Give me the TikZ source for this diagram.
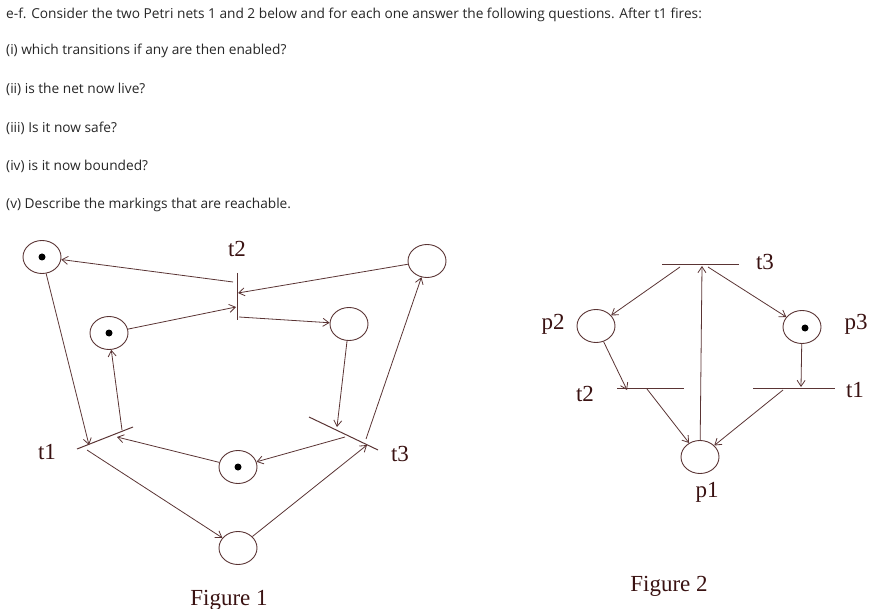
\documentclass[tikz,border=0pt]{standalone}
\usepackage{fontspec}
\setmainfont{Liberation Serif}
\newfontfamily\hdr{Open Sans}
\usetikzlibrary{shapes.geometric,arrows.meta}
\definecolor{ln}{HTML}{5A3434}
\definecolor{tx}{HTML}{3A1212}
\tikzset{
  place/.style={ellipse,draw=ln,line width=0.9pt,minimum width=38pt,minimum height=33pt,inner sep=0pt},
  trans/.style={draw=ln,line width=1pt},
  arc/.style={draw=ln,line width=0.8pt,-{Straight Barb[length=6pt,width=8pt]}},
  lbl/.style={text=tx,font=\fontsize{23}{25}\selectfont},
  hd/.style={anchor=west,font=\hdr\fontsize{13.7}{15}\selectfont,text=black!85,inner sep=0pt},
  tok/.style={circle,fill=black,inner sep=0pt,minimum size=7pt}
}
\begin{document}
\begin{tikzpicture}[x=1pt,y=-1pt]
\useasboundingbox (0,0) rectangle (872,609);
% header
\node[hd] (h0) at (6,15) {e-f. Consider the two Petri nets 1 and 2 below and for each one answer the following questions. After t1 fires:};
\node[hd] (h1) at (6,51) {(i) which transitions if any are then enabled?};
\node[hd] (h2) at (6,89) {(ii) is the net now live?};
\node[hd] (h3) at (6,128) {(iii) Is it now safe?};
\node[hd] (h4) at (6,166) {(iv) is it now bounded?};
\node[hd] (h5) at (6,205) {(v) Describe the markings that are reachable.};
% ---------- Figure 1
\node[place] (A) at (42,257) {}; \node[tok] (Ad) at (42,257) {};
\node[place] (TR) at (427,261) {};
\node[place] (B) at (109,333) {}; \node[tok] (Bd) at (109,333) {};
\node[place] (C) at (349,324) {};
\node[place] (D) at (238,467) {}; \node[tok] (Dd) at (238,467) {};
\node[place] (E) at (238,548) {};
% transitions
\coordinate (t2a) at (237,273); \coordinate (t2b) at (237,320);
\draw[trans] (t2a) -- (t2b);
\coordinate (t1a) at (77,449); \coordinate (t1b) at (133,427);
\draw[trans] (t1a) -- (t1b);
\coordinate (t3a) at (309,417); \coordinate (t3b) at (378,450);
\draw[trans] (t3a) -- (t3b);
\node[lbl] (lt2) at (237,249) {t2};
\node[lbl] (lt1) at (47,452) {t1};
\node[lbl] (lt3) at (400,454) {t3};
\node[lbl,anchor=north] (f1) at (229,587) {Figure 1};
% arc endpoints at transitions
\coordinate (x1) at (89,445); \coordinate (x2) at (233,282);
\coordinate (x3) at (238,293); \coordinate (x4) at (236,307);
\coordinate (x5) at (239,317); \coordinate (x6) at (337,427);
\coordinate (x7) at (345,437); \coordinate (x8) at (117,437);
\coordinate (x9) at (122,430); \coordinate (x10) at (87,450);
\coordinate (x11) at (367,445); \coordinate (x12) at (366,439);
\draw[arc] (A) -- (x1);
\draw[arc] (x2) -- (A);
\draw[arc] (TR) -- (x3);
\draw[arc] (B) -- (x4);
\draw[arc] (x5) -- (C);
\draw[arc] (C) -- (x6);
\draw[arc] (x7) -- (D);
\draw[arc] (D) -- (x8);
\draw[arc] (x9) -- (B);
\draw[arc] (x10) -- (E);
\draw[arc] (E) -- (x11);
\draw[arc] (x12) -- (TR);
% ---------- Figure 2
\node[place] (p1) at (700,457) {};
\node[place] (p2) at (596,326) {};
\node[place] (p3) at (802,327) {}; \node[tok] (p3d) at (805,328) {};
\coordinate (T3a) at (662,265); \coordinate (T3b) at (739,265);
\draw[trans] (T3a) -- (T3b);
\coordinate (T2a) at (617,388); \coordinate (T2b) at (684,388);
\draw[trans] (T2a) -- (T2b);
\coordinate (T1a) at (753,388); \coordinate (T1b) at (835,388);
\draw[trans] (T1a) -- (T1b);
\node[lbl] (lp1) at (707,492) {p1};
\node[lbl] (lp2) at (553,324) {p2};
\node[lbl] (lp3) at (856,324) {p3};
\node[lbl] (lT3) at (765,262) {t3};
\node[lbl] (lT2) at (585,394) {t2};
\node[lbl] (lT1) at (855,390) {t1};
\node[lbl] (f2) at (669,586) {Figure 2};
\coordinate (y1) at (680,267); \coordinate (y2) at (708,267);
\coordinate (y3) at (702,266); \coordinate (y4) at (627,390);
\coordinate (y5) at (647,389); \coordinate (y6) at (801,387);
\coordinate (y7) at (783,390);
\draw[arc] (y1) -- (p2);
\draw[arc] (y2) -- (p3);
\draw[arc] (p1) -- (y3);
\draw[arc] (p2) -- (y4);
\draw[arc] (y5) -- (p1);
\draw[arc] (p3) -- (y6);
\draw[arc] (y7) -- (p1);
\end{tikzpicture}
\end{document}
